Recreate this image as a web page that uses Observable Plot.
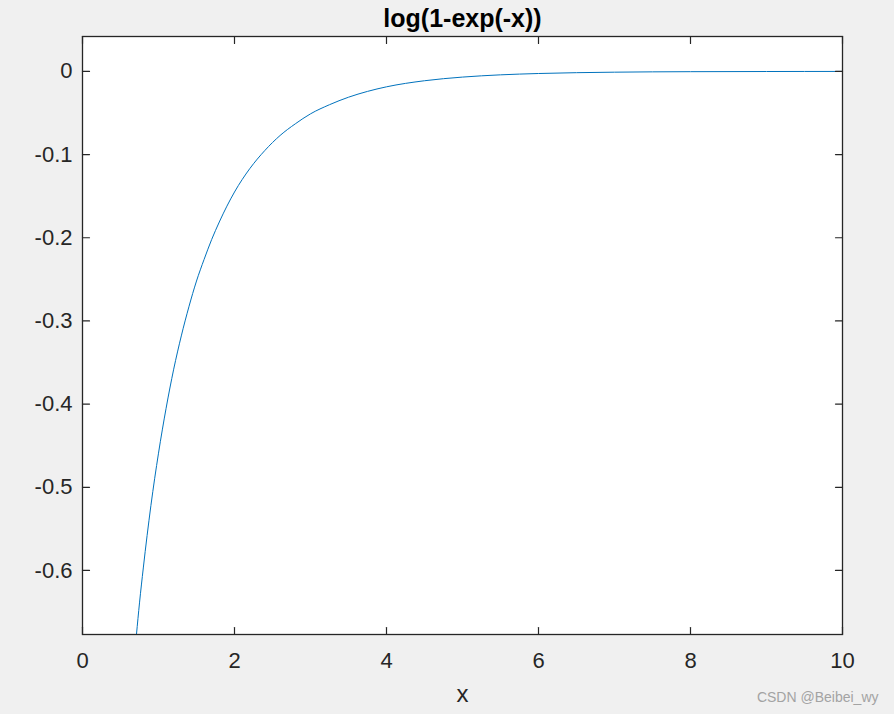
<!DOCTYPE html>
<html>
<head>
<meta charset="utf-8">
<script src="https://cdn.jsdelivr.net/npm/d3@7"></script>
<script src="https://cdn.jsdelivr.net/npm/@observablehq/plot@0.6"></script>
<style>
  html, body { margin: 0; padding: 0; background: #f0f0f0; }
</style>
</head>
<body>
<div id="chart"></div>
<script>
// values
const xs = [0.71, 0.75, 0.8, 0.85, 0.9, 1.0, 1.1, 1.2, 1.3, 1.4, 1.5, 1.6, 1.7, 1.8, 2.0, 2.2, 2.4, 2.6, 2.8, 3.0, 3.25, 3.5, 3.75, 4.0, 4.5, 5.0, 5.5, 6.0, 7.0, 8.0, 9.0, 10.0];
const ys = [-0.677, -0.639, -0.597, -0.558, -0.522, -0.459, -0.405, -0.358, -0.318, -0.283, -0.252, -0.226, -0.202, -0.181, -0.145, -0.117, -0.095, -0.077, -0.063, -0.051, -0.040, -0.031, -0.024, -0.0185, -0.0112, -0.0068, -0.0041, -0.0025, -0.0009, -0.0003, -0.0001, 0.0];
const xTicks = [0, 2, 4, 6, 8, 10];
const xTickLabels = ["0", "2", "4", "6", "8", "10"];
const yTicks = [0, -0.1, -0.2, -0.3, -0.4, -0.5, -0.6];
const yTickLabels = ["0", "-0.1", "-0.2", "-0.3", "-0.4", "-0.5", "-0.6"];
const titleText = "log(1-exp(-x))";
const xLabelText = "x";
const watermark = "CSDN @Beibei_wy";

const data = xs.map((x, i) => ({x, y: ys[i]}));
const ink = "#262626";
const tickShape = {draw(context, l) { context.moveTo(0, 0); context.lineTo(0, -l); }};

const chart = Plot.plot({
  width: 894,
  height: 714,
  marginLeft: 82,
  marginRight: 52,
  marginTop: 36,
  marginBottom: 80,
  style: {background: "#f0f0f0", fontFamily: "'Liberation Sans', Arial, sans-serif", overflow: "visible"},
  x: {domain: [0, 10], axis: null},
  y: {domain: [-0.677, 0.042], axis: null},
  marks: [
    Plot.frame({fill: "white", stroke: null}),
    Plot.line(data, {x: "x", y: "y", stroke: "#0072BD", strokeWidth: 1, curve: "monotone-x", clip: true}),
    // ticks pointing inward on all four sides
    Plot.vector(xTicks, {x: d => d, frameAnchor: "bottom", length: 7, rotate: 0, anchor: "start", shape: tickShape, stroke: ink, strokeWidth: 1.2}),
    Plot.vector(xTicks, {x: d => d, frameAnchor: "top", length: 7, rotate: 180, anchor: "start", shape: tickShape, stroke: ink, strokeWidth: 1.2}),
    Plot.vector(yTicks, {y: d => d, frameAnchor: "left", length: 7, rotate: 90, anchor: "start", shape: tickShape, stroke: ink, strokeWidth: 1.2}),
    Plot.vector(yTicks, {y: d => d, frameAnchor: "right", length: 7, rotate: 270, anchor: "start", shape: tickShape, stroke: ink, strokeWidth: 1.2}),
    Plot.frame({stroke: ink, strokeWidth: 1.3}),
    // tick labels
    Plot.text(xTicks, {x: d => d, frameAnchor: "bottom", lineAnchor: "middle", dy: 26, text: (d, i) => xTickLabels[i], fontSize: 22, fill: ink}),
    Plot.text(yTicks, {y: d => d, frameAnchor: "left", lineAnchor: "middle", dx: -10, textAnchor: "end", text: (d, i) => yTickLabels[i], fontSize: 22, fill: ink}),
    // title, axis label, watermark
    Plot.text([titleText], {frameAnchor: "top", lineAnchor: "middle", dy: -18, text: d => d, fontSize: 25, fontWeight: "bold", fill: "#000"}),
    Plot.text([xLabelText], {frameAnchor: "bottom", lineAnchor: "middle", dy: 60, text: d => d, fontSize: 24, fill: ink}),
    Plot.text([watermark], {frameAnchor: "bottom-right", lineAnchor: "middle", dx: 36, dy: 63, textAnchor: "end", text: d => d, fontSize: 14, fill: "#a3a3a3"})
  ]
});
document.getElementById("chart").appendChild(chart);
</script>
</body>
</html>
